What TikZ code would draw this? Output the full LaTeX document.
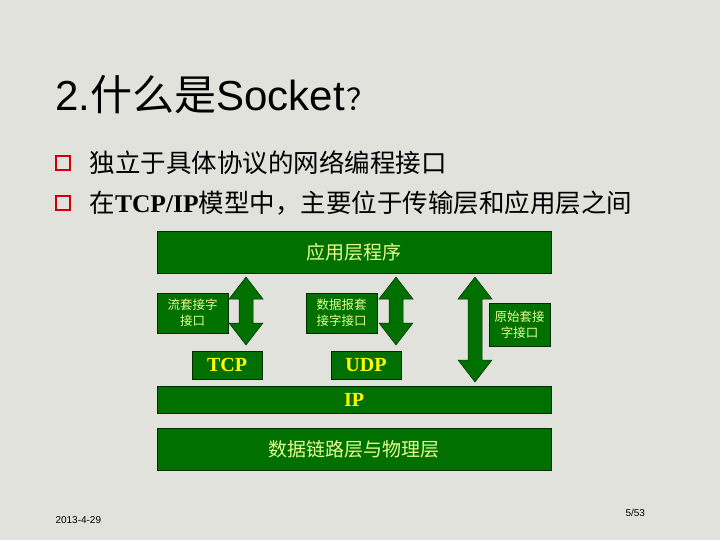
\documentclass[tikz,border=0pt]{standalone}
\usepackage{fontspec}
\setmainfont{Liberation Sans}
\newfontfamily\cjk{Noto Sans CJK SC}
\newfontfamily\tms{Liberation Serif}
\definecolor{bg}{RGB}{226,226,220}
\definecolor{gr}{RGB}{0,112,0}
\definecolor{lt}{RGB}{230,255,140}
\definecolor{yl}{RGB}{255,255,0}
\definecolor{bul}{RGB}{204,0,0}
\tikzset{
 gbox/.style={fill=gr,draw=black!60!gr,line width=0.6pt,inner sep=0pt},
 dbl/.style={fill=gr,draw=black!60!gr,line width=0.5pt}
}
\newcommand{\dar}[4]{% x, ytop, ybot, name
 \fill[dbl] (#1,#2) -- (#1+17,#2+22) -- (#1+7,#2+22) -- (#1+7,#3-22) -- (#1+17,#3-22) -- (#1,#3) -- (#1-17,#3-22) -- (#1-7,#3-22) -- (#1-7,#2+22) -- (#1-17,#2+22) -- cycle;}
\begin{document}
\begin{tikzpicture}[x=1pt,y=-1pt]
\fill[bg] (0,0) rectangle (720,540);
\useasboundingbox (0,0) rectangle (720,540);
\node[anchor=west,font=\fontsize{42}{42}\selectfont] (title) at (52,95) {2.{\cjk 什么是}Socket\hspace{2pt}{\cjk\fontsize{30}{30}\selectfont ？}};
\node[draw=bul,line width=1.4pt,minimum size=14pt,inner sep=0pt] (b1) at (63,163) {};
\node[draw=bul,line width=1.4pt,minimum size=14pt,inner sep=0pt] (b2) at (63,203) {};
\node[anchor=west,font=\fontsize{25.5}{25.5}\selectfont\cjk] (t1) at (86,163) {独立于具体协议的网络编程接口};
\node[anchor=west,font=\fontsize{25.5}{25.5}\selectfont\cjk] (t2) at (86,203) {在{\tms\bfseries TCP/IP}模型中，主要位于传输层和应用层之间};
\node[gbox,minimum width=394pt,minimum height=42pt,text=lt,font=\cjk\fontsize{19}{19}\selectfont] (app) at (354,252) {应用层程序};
\node[gbox,minimum width=71pt,minimum height=40pt,text=lt,font=\cjk\fontsize{12.5}{16}\selectfont,align=center] (s1) at (192.5,313) {流套接字\\接口};
\node[gbox,minimum width=71pt,minimum height=40pt,text=lt,font=\cjk\fontsize{12.5}{16}\selectfont,align=center] (s2) at (341.5,313) {数据报套\\接字接口};
\node[gbox,minimum width=61pt,minimum height=43pt,text=lt,font=\cjk\fontsize{12.5}{16}\selectfont,align=center] (s3) at (519.5,324.5) {原始套接\\字接口};
\node[gbox,minimum width=70pt,minimum height=28pt,text=yl,font=\tms\bfseries\fontsize{20}{20}\selectfont] (tcp) at (227,365) {TCP};
\node[gbox,minimum width=70pt,minimum height=28pt,text=yl,font=\tms\bfseries\fontsize{20}{20}\selectfont] (udp) at (366,365) {UDP};
\node[gbox,minimum width=394pt,minimum height=27pt,text=yl,font=\tms\bfseries\fontsize{20}{20}\selectfont] (ip) at (354,399.5) {IP};
\node[gbox,minimum width=394pt,minimum height=42pt,text=lt,font=\cjk\fontsize{19}{19}\selectfont] (dl) at (354,449) {数据链路层与物理层};
\dar{246}{277}{345}{a1}
\dar{396}{277}{345}{a2}
\dar{475}{277}{382}{a3}
\node[anchor=west,font=\fontsize{10}{10}\selectfont] (date) at (52,520) {2013-4-29};
\node[anchor=west,font=\fontsize{10}{10}\selectfont] (pg) at (622,513) {5/53};
\end{tikzpicture}
\end{document}
